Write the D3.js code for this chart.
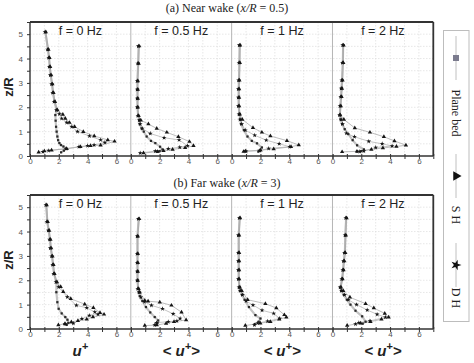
<!DOCTYPE html>
<html><head><meta charset="utf-8">
<script src="https://cdn.jsdelivr.net/npm/d3@7"></script>
<style>body{margin:0;background:#fff}</style></head>
<body>
<svg id="c" width="474" height="363"></svg>
<script>
// ---------- labels ----------
const freqLabels = ["f = 0 Hz", "f = 0.5 Hz", "f = 1 Hz", "f = 2 Hz"];
const xTickLabels = [0, 2, 4, 6];
const zTickLabels = [0, 1, 2, 3, 4, 5];
const legendNames = ["Plane bed", "S H", "D H"];

// ---------- data: [u, z/R] ----------
// Near wake (x/R = 0.5)
const near0Plane = [[1.07,5.09],[1.25,4.37],[1.32,4.03],[1.37,3.66],[1.44,3.32],[1.53,2.95],[1.6,2.6],[1.7,2.23],[1.86,1.89],[1.76,1.68],[1.78,1.45],[1.81,1.2],[1.85,1.0],[1.9,0.8],[1.95,0.65],[2.04,0.53],[2.15,0.45],[2.32,0.39],[2.5,0.3],[2.35,0.22],[2.16,0.15]];
const near0SH = [[1.1,5.09],[1.28,4.37],[1.35,4.03],[1.4,3.66],[1.47,3.32],[1.56,2.95],[1.63,2.6],[1.74,2.23],[1.9,1.89],[2.28,1.7],[2.45,1.54],[2.74,1.37],[3.1,1.2],[3.7,1.0],[4.46,0.82],[5.4,0.66],[5.87,0.6],[4.9,0.44],[4.2,0.42],[3.5,0.38],[2.55,0.3],[1.5,0.24],[1.0,0.2],[0.6,0.15]];
const near0DH = [[1.04,5.09],[1.22,4.37],[1.3,4.03],[1.34,3.66],[1.41,3.32],[1.5,2.95],[1.57,2.6],[1.67,2.23],[1.83,1.89],[2.04,1.72],[2.2,1.54],[2.55,1.37],[2.9,1.2],[3.3,1.0],[4.13,0.82],[4.9,0.66],[5.2,0.55],[4.45,0.45],[4.0,0.42],[3.4,0.38],[2.5,0.3],[1.3,0.22],[0.9,0.17]];

const near05Plane = [[0.55,4.51],[0.51,3.8],[0.46,3.08],[0.46,2.73],[0.46,2.36],[0.46,2.0],[0.51,1.65],[0.58,1.47],[0.62,1.31],[0.75,1.13],[0.9,1.0],[1.1,0.8],[1.4,0.62],[1.7,0.53],[2.03,0.38],[2.2,0.27],[2.0,0.2],[1.85,0.17]];
const near05SH = [[0.58,4.51],[0.54,3.8],[0.49,3.08],[0.49,2.73],[0.49,2.36],[0.49,2.0],[0.54,1.65],[0.69,1.47],[1.22,1.31],[1.8,1.13],[2.5,0.97],[3.3,0.79],[4.07,0.59],[4.35,0.42],[3.77,0.34],[2.9,0.27],[2.27,0.21],[1.86,0.18],[0.88,0.12]];
const near05DH = [[0.52,4.51],[0.48,3.8],[0.44,3.08],[0.44,2.73],[0.44,2.36],[0.44,2.0],[0.49,1.65],[0.58,1.47],[0.65,1.31],[0.8,1.13],[1.35,0.92],[2.31,0.75],[3.35,0.66],[3.94,0.42],[3.4,0.36],[2.6,0.3],[1.7,0.2],[0.65,0.12]];

const near1Plane = [[0.56,4.55],[0.54,3.83],[0.51,3.11],[0.49,2.75],[0.49,2.4],[0.49,2.05],[0.54,1.71],[0.6,1.5],[0.65,1.31],[0.85,1.06],[1.1,0.8],[1.4,0.62],[1.76,0.52],[2.1,0.35],[1.95,0.22],[1.85,0.18]];
const near1SH = [[0.59,4.55],[0.57,3.83],[0.54,3.11],[0.52,2.75],[0.52,2.4],[0.52,2.05],[0.57,1.71],[0.74,1.5],[1.48,1.16],[2.1,0.97],[2.69,0.82],[3.84,0.63],[4.66,0.45],[4.12,0.38],[2.92,0.29],[2.0,0.24],[0.95,0.2],[0.83,0.18]];
const near1DH = [[0.53,4.55],[0.51,3.83],[0.48,3.11],[0.46,2.75],[0.46,2.4],[0.46,2.05],[0.51,1.71],[0.58,1.5],[0.7,1.31],[0.95,1.06],[1.6,0.85],[2.4,0.65],[3.3,0.5],[4.03,0.38],[2.57,0.31],[1.95,0.22],[1.0,0.19]];

const near2Plane = [[0.74,4.55],[0.72,3.83],[0.67,3.11],[0.63,2.77],[0.6,2.43],[0.55,2.05],[0.51,1.68],[0.56,1.5],[0.67,1.31],[0.85,1.1],[1.1,0.9],[1.4,0.65],[1.71,0.44],[2.18,0.27],[2.0,0.2],[1.7,0.18]];
const near2SH = [[0.77,4.55],[0.75,3.83],[0.7,3.11],[0.66,2.77],[0.63,2.43],[0.58,2.05],[0.54,1.68],[0.79,1.5],[1.55,1.15],[2.6,0.97],[3.57,0.79],[4.3,0.62],[5.1,0.44],[4.44,0.39],[3.5,0.33],[2.7,0.27],[1.7,0.19],[0.67,0.17]];
const near2DH = [[0.71,4.55],[0.69,3.83],[0.64,3.11],[0.6,2.77],[0.57,2.43],[0.52,2.05],[0.49,1.68],[0.6,1.5],[0.7,1.31],[0.97,0.93],[1.53,0.79],[2.52,0.6],[3.45,0.5],[4.14,0.41],[3.0,0.35],[2.18,0.2],[1.9,0.18]];

// Far wake (x/R = 3)
const far0Plane = [[1.13,5.09],[1.2,4.4],[1.3,4.04],[1.39,3.67],[1.44,3.32],[1.53,2.99],[1.6,2.64],[1.67,2.27],[1.83,1.93],[1.83,1.51],[1.9,1.1],[1.99,0.83],[2.2,0.64],[2.45,0.49],[2.6,0.38],[2.66,0.25],[2.55,0.17]];
const far0SH = [[1.16,5.09],[1.23,4.4],[1.33,4.04],[1.42,3.67],[1.47,3.32],[1.56,2.99],[1.63,2.64],[1.7,2.27],[1.87,1.93],[2.13,1.73],[2.31,1.53],[2.83,1.24],[3.8,1.02],[4.4,0.87],[4.86,0.67],[5.14,0.6],[4.37,0.49],[3.94,0.4],[3.33,0.34],[2.87,0.29],[2.43,0.22],[1.97,0.16]];
const far0DH = [[1.1,5.09],[1.17,4.4],[1.27,4.04],[1.36,3.67],[1.41,3.32],[1.5,2.99],[1.57,2.64],[1.64,2.27],[1.8,1.93],[1.99,1.72],[2.59,1.31],[3.22,0.97],[3.94,0.87],[4.5,0.7],[4.72,0.6],[4.12,0.55],[3.6,0.42],[3.01,0.23],[2.43,0.2]];

const far05Plane = [[0.55,4.52],[0.46,3.81],[0.46,3.09],[0.46,2.72],[0.46,2.36],[0.46,1.99],[0.51,1.65],[0.55,1.51],[0.62,1.35],[0.8,1.15],[1.05,0.9],[1.35,0.68],[1.66,0.49],[1.9,0.35],[1.85,0.25]];
const far05SH = [[0.58,4.52],[0.49,3.81],[0.49,3.09],[0.49,2.72],[0.49,2.36],[0.49,1.99],[0.54,1.65],[0.62,1.51],[0.97,1.17],[1.2,1.14],[2.01,1.1],[2.82,0.97],[3.52,0.69],[3.84,0.37],[3.0,0.3],[2.45,0.23],[1.8,0.16],[0.97,0.14]];
const far05DH = [[0.52,4.52],[0.44,3.81],[0.44,3.09],[0.44,2.72],[0.44,2.36],[0.44,1.99],[0.48,1.65],[0.58,1.51],[0.7,1.3],[0.95,1.12],[1.43,0.97],[2.2,0.83],[2.94,0.62],[3.42,0.43],[3.2,0.33],[2.6,0.3],[1.78,0.26],[1.66,0.16]];

const far1Plane = [[0.56,4.56],[0.49,3.85],[0.49,3.13],[0.49,2.79],[0.49,2.42],[0.49,2.05],[0.54,1.71],[0.57,1.57],[0.72,1.4],[0.9,1.2],[1.2,0.9],[1.65,0.57],[2.0,0.43],[1.88,0.3],[1.6,0.2]];
const far1SH = [[0.59,4.56],[0.52,3.85],[0.52,3.13],[0.52,2.79],[0.52,2.42],[0.52,2.05],[0.57,1.71],[0.7,1.57],[1.11,1.2],[2.34,1.04],[3.1,0.86],[3.66,0.58],[3.8,0.48],[3.3,0.4],[2.69,0.3],[1.99,0.24],[0.95,0.14]];
const far1DH = [[0.53,4.56],[0.46,3.85],[0.46,3.13],[0.46,2.79],[0.46,2.42],[0.46,2.05],[0.51,1.71],[0.6,1.57],[0.75,1.4],[1.0,1.15],[1.48,0.98],[2.11,0.77],[2.92,0.64],[3.34,0.43],[2.5,0.32],[1.81,0.24],[1.58,0.16]];

const far2Plane = [[0.95,4.56],[0.9,3.85],[0.86,3.13],[0.79,2.79],[0.74,2.42],[0.67,2.05],[0.56,1.71],[0.6,1.57],[0.79,1.4],[1.0,1.2],[1.25,1.0],[1.6,0.75],[2.06,0.52],[2.3,0.3],[2.1,0.22]];
const far2SH = [[0.98,4.56],[0.93,3.85],[0.89,3.13],[0.82,2.79],[0.77,2.42],[0.7,2.05],[0.59,1.71],[0.75,1.57],[1.21,1.3],[2.3,1.04],[2.87,0.86],[3.63,0.64],[3.9,0.48],[3.4,0.4],[2.64,0.3],[1.95,0.24],[1.02,0.14]];
const far2DH = [[0.92,4.56],[0.87,3.85],[0.83,3.13],[0.76,2.79],[0.71,2.42],[0.64,2.05],[0.53,1.71],[0.62,1.57],[0.84,1.4],[1.1,1.2],[1.67,1.0],[2.41,0.78],[3.1,0.6],[3.68,0.48],[2.6,0.33],[1.83,0.26],[1.6,0.2]];

// ---------- layout ----------
const svg = d3.select("#c");
const L = 30, R = 433.3, W = (R - L) / 4;
const rows = [
  { top: 22, bottom: 156, titleY: 11.5, freqY: 34.5, tickY: 169.5,
    title: ["(a) Near wake (", "x/R", " = 0.5)"],
    series: [[near0Plane, near0SH, near0DH],[near05Plane, near05SH, near05DH],[near1Plane, near1SH, near1DH],[near2Plane, near2SH, near2DH]],
    xTitle: false, zLabelY: 87 },
  { top: 195, bottom: 329, titleY: 186.5, freqY: 207.5, tickY: 342.5,
    title: ["(b) Far wake (", "x/R", " = 3)"],
    series: [[far0Plane, far0SH, far0DH],[far05Plane, far05SH, far05DH],[far1Plane, far1SH, far1DH],[far2Plane, far2SH, far2DH]],
    xTitle: true, zLabelY: 260 }
];

const sym = [d3.symbolSquare, d3.symbolTriangle, d3.symbolStar];
const symSize = [5, 8, 7];
const symFill = ["#2a2a2a", "#151515", "#151515"];
const lineStroke = ["#c4c4c4", "#a0a0a0", "#acacac"];
const lineWidth = [2.2, 0.7, 0.7];

rows.forEach(row => {
  const y = d3.scaleLinear().domain([0, 5.5]).range([row.bottom, row.top]);
  const g = svg.append("g");

  // title
  const t = g.append("text").attr("x", 227).attr("y", row.titleY).attr("text-anchor", "middle")
    .attr("font-family", "Liberation Serif, Times New Roman, serif").attr("font-size", 12).attr("fill", "#222");
  t.append("tspan").text(row.title[0]);
  t.append("tspan").attr("font-style", "italic").text(row.title[1]);
  t.append("tspan").text(row.title[2]);

  // horizontal grid
  g.append("g").selectAll("line").data(d3.range(0.5, 5.51, 0.5)).join("line")
    .attr("x1", L).attr("x2", R).attr("y1", d => y(d)).attr("y2", d => y(d))
    .attr("stroke", "#dcdcdc").attr("stroke-width", 0.7).attr("stroke-dasharray", "1.5,1.5");

  for (let p = 0; p < 4; p++) {
    const x = d3.scaleLinear().domain([0, 7]).range([L + p * W, L + (p + 1) * W]);
    // vertical grid
    g.append("g").selectAll("line").data(d3.range(1, 7)).join("line")
      .attr("x1", d => x(d)).attr("x2", d => x(d)).attr("y1", row.top).attr("y2", row.bottom)
      .attr("stroke", "#dcdcdc").attr("stroke-width", 0.7).attr("stroke-dasharray", "1.5,1.5");
    // separator
    if (p > 0) g.append("line").attr("x1", x(0)).attr("x2", x(0)).attr("y1", row.top).attr("y2", row.bottom)
      .attr("stroke", "#b5b5b5").attr("stroke-width", 1);

    // x axis
    const ax = g.append("g").attr("transform", `translate(0,${row.bottom})`)
      .call(d3.axisBottom(x).tickValues(d3.range(0, 8, 1)).tickSize(3)
        .tickFormat(d => xTickLabels.includes(d) ? d : ""));
    ax.select(".domain").remove();
    ax.selectAll(".tick line").attr("stroke", "#333").attr("y1", -2);
    ax.selectAll(".tick text").attr("y", row.tickY - row.bottom - 6).attr("dy", 0)
      .attr("font-family", "Liberation Sans, Arial, sans-serif").attr("font-size", 8).attr("fill", "#555");

    // series
    const [plane, sh, dh] = row.series[p];
    [plane, sh, dh].forEach((s, k) => {
      const line = d3.line().x(d => x(d[0])).y(d => y(d[1]));
      g.append("path").attr("d", line(s)).attr("fill", "none")
        .attr("stroke", lineStroke[k]).attr("stroke-width", lineWidth[k]);
    });
    [plane, sh, dh].forEach((s, k) => {
      g.append("g").selectAll("path").data(s).join("path")
        .attr("transform", d => `translate(${x(d[0])},${y(d[1])})`)
        .attr("d", d3.symbol().type(sym[k]).size(symSize[k]))
        .attr("fill", symFill[k]);
    });

    // frequency label
    g.append("text").attr("x", x(3.5)).attr("y", row.freqY).attr("text-anchor", "middle")
      .attr("font-family", "Liberation Sans, Arial, sans-serif").attr("font-size", 12.5).attr("fill", "#222")
      .text(freqLabels[p]);

    // x title
    if (row.xTitle) {
      const xt = g.append("text").attr("x", x(3.5)).attr("y", 356).attr("text-anchor", "middle")
        .attr("font-family", "Liberation Sans, Arial, sans-serif").attr("font-size", 15)
        .attr("font-weight", "bold").attr("font-style", "italic").attr("fill", "#222");
      if (p === 0) {
        xt.append("tspan").text("u");
        xt.append("tspan").attr("dy", -6).attr("font-size", 11).text("+");
      } else {
        xt.append("tspan").text("< u");
        xt.append("tspan").attr("dy", -6).attr("font-size", 11).text("+");
        xt.append("tspan").attr("dy", 6).text(">");
      }
    }
  }

  // y axis
  const ay = g.append("g").attr("transform", `translate(${L},0)`)
    .call(d3.axisLeft(y).tickValues(d3.range(0, 5.51, 0.5)).tickSize(3)
      .tickFormat(d => zTickLabels.includes(d) ? d : ""));
  ay.select(".domain").remove();
  ay.selectAll(".tick line").attr("stroke", "#333");
  ay.selectAll(".tick text").attr("x", -7)
    .attr("font-family", "Liberation Sans, Arial, sans-serif").attr("font-size", 8).attr("fill", "#555");

  // frame
  g.append("line").attr("x1", L).attr("x2", R).attr("y1", row.top).attr("y2", row.top).attr("stroke", "#333").attr("stroke-width", 1.8);
  g.append("line").attr("x1", R).attr("x2", R).attr("y1", row.top).attr("y2", row.bottom).attr("stroke", "#333").attr("stroke-width", 1.8);
  g.append("line").attr("x1", L).attr("x2", L).attr("y1", row.top).attr("y2", row.bottom).attr("stroke", "#333").attr("stroke-width", 1.4);
  g.append("line").attr("x1", L).attr("x2", R).attr("y1", row.bottom).attr("y2", row.bottom).attr("stroke", "#333").attr("stroke-width", 1.4);

  // z/R label
  g.append("text").attr("transform", `translate(13,${row.zLabelY}) rotate(-90)`).attr("text-anchor", "middle")
    .attr("font-family", "Liberation Sans, Arial, sans-serif").attr("font-size", 13).attr("font-weight", "bold")
    .attr("fill", "#222").text("z/R");
});

// ---------- legend ----------
const lg = svg.append("g");
lg.append("rect").attr("x", 443.5).attr("y", 30.5).attr("width", 25.5).attr("height", 291)
  .attr("fill", "#fff").attr("stroke", "#bdbdbd").attr("stroke-width", 1);
const lx = 456;
const legendSym = [58, 176, 265];
const legendText = [113, 215, 298];
const legendColors = ["#7b7b8e", "#111", "#111"];
legendNames.forEach((name, k) => {
  lg.append("line").attr("x1", lx).attr("x2", lx).attr("y1", legendSym[k] - 22).attr("y2", legendSym[k] + 22)
    .attr("stroke", "#b0b0b0").attr("stroke-width", 0.8);
  lg.append("path").attr("transform", `translate(${lx},${legendSym[k]}) rotate(90)`)
    .attr("d", d3.symbol().type(sym[k]).size([36, 40, 34][k])).attr("fill", legendColors[k]);
  lg.append("text").attr("transform", `translate(${lx - 4},${legendText[k]}) rotate(90)`)
    .attr("text-anchor", "middle").attr("font-family", "Liberation Serif, Times New Roman, serif")
    .attr("font-size", 12).attr("fill", "#222").text(name);
});
</script>
</body></html>
